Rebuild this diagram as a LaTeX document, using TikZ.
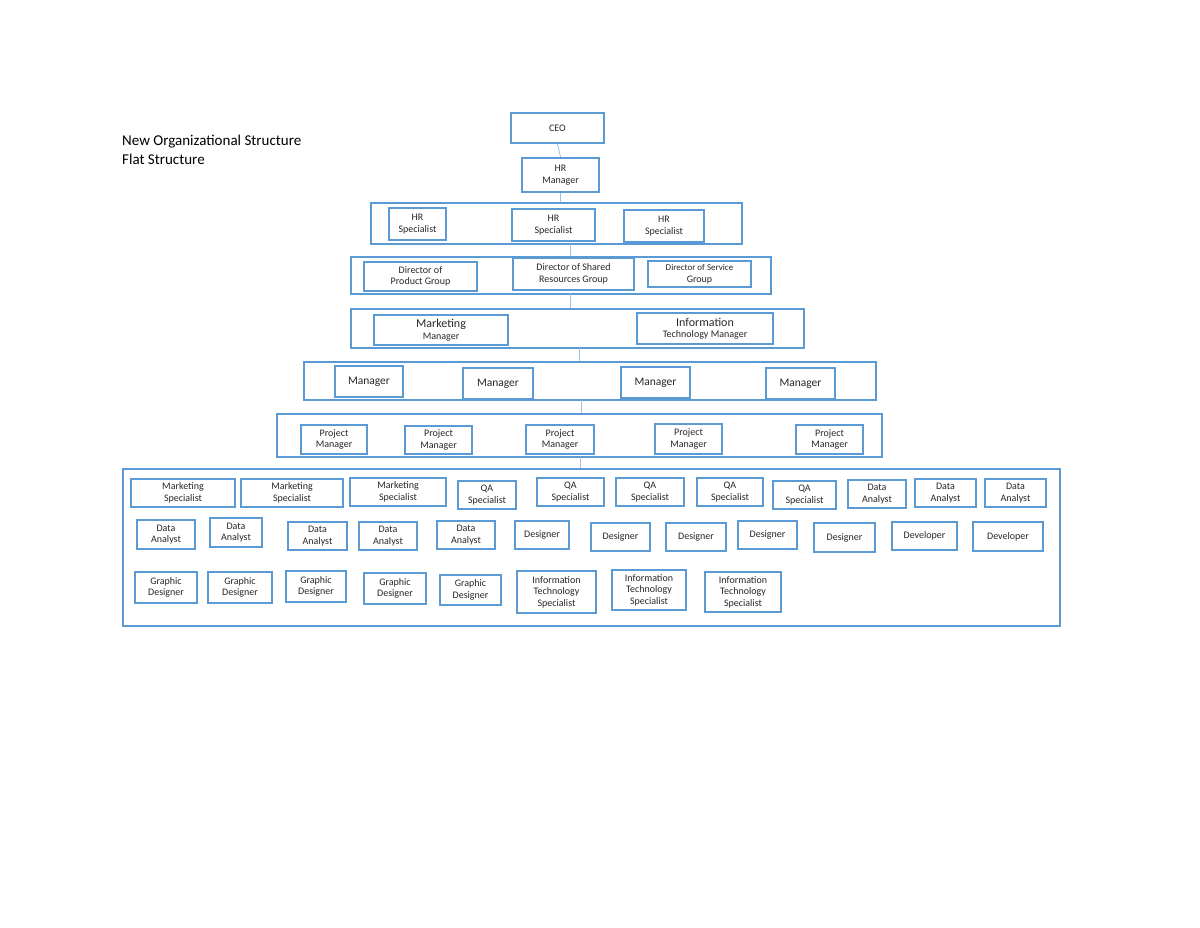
\documentclass[tikz,border=0pt]{standalone}
\usepackage{fontspec}
\setmainfont{Carlito}
\begin{document}
\begin{tikzpicture}[x=1pt,y=-1pt,
  box/.style={draw=boxblue,line width=2.2pt,inner sep=0pt,align=center,font=\fontsize{10}{11.5}\selectfont,text=black!85},
  grp/.style={draw=boxblue,line width=1.1pt,inner sep=0pt},
  conn/.style={draw=lineblue,line width=0.8pt}]
\definecolor{boxblue}{HTML}{5B9BD5}
\definecolor{lineblue}{HTML}{9DC3E6}
\useasboundingbox (0,0) rectangle (1200,927);
\newcommand\bx[6]{\node[box,minimum width={(#4-#2)*1pt},minimum height={(#5-#3)*1pt}] (#1) at ({(#2+#4)/2},{(#3+#5)/2}) {#6};}
\newcommand\gp[5]{\node[grp,minimum width={(#4-#2)*1pt},minimum height={(#5-#3)*1pt}] (#1) at ({(#2+#4)/2},{(#3+#5)/2}) {};}
\node[anchor=north west,align=left,inner sep=0pt,font=\fontsize{15}{19}\selectfont] (title) at (122,135) {New Organizational Structure\\Flat Structure};
% groups
\gp{g1}{371}{203}{742}{244}
\gp{g2}{351}{257}{771}{294}
\gp{g3}{351}{309}{804}{348}
\gp{g4}{304}{362}{876}{400}
\gp{g5}{277}{414}{882}{457}
\gp{g6}{123}{469}{1060}{626}
\bx{ceo}{511}{113}{604}{143}{CEO}
\bx{hr}{522}{158}{599}{192}{HR\\Manager}
\bx{hs1}{389}{208}{446}{240}{HR\\Specialist}
\bx{hs2}{512}{209}{595}{241}{HR\\Specialist}
\bx{hs3}{624}{210}{704}{242}{HR\\Specialist}
\bx{d1}{364}{262}{477}{291}{Director of\\Product Group}
\bx{d2}{513}{258}{634}{290}{Director of Shared\\Resources Group}
\bx{d3}{648}{261}{751}{287}{\fontsize{9}{10.5}\selectfont Director of Service\\Group}
\bx{mm}{374}{315}{508}{345}{\fontsize{12}{13}\selectfont Marketing\\Manager}
\bx{itm}{637}{313}{773}{344}{\fontsize{12}{13}\selectfont Information\\Technology Manager}
\bx{m1}{335}{366}{403}{397}{\fontsize{11.5}{13}\selectfont Manager}
\bx{m2}{463}{368}{533}{399}{\fontsize{11.5}{13}\selectfont Manager}
\bx{m3}{621}{367}{690}{398}{\fontsize{11.5}{13}\selectfont Manager}
\bx{m4}{766}{368}{835}{399}{\fontsize{11.5}{13}\selectfont Manager}
\bx{p1}{301}{425}{367}{454}{Project\\Manager}
\bx{p2}{405}{426}{472}{454}{Project\\Manager}
\bx{p3}{526}{425}{594}{454}{Project\\Manager}
\bx{p4}{655}{424}{722}{454}{Project\\Manager}
\bx{p5}{796}{425}{863}{454}{Project\\Manager}
% row 1
\bx{a1}{131}{479}{235}{507}{Marketing\\Specialist}
\bx{a2}{241}{479}{343}{507}{Marketing\\Specialist}
\bx{a3}{350}{478}{446}{506}{Marketing\\Specialist}
\bx{a4}{458}{481}{516}{509}{QA\\Specialist}
\bx{a5}{537}{478}{604}{506}{QA\\Specialist}
\bx{a6}{616}{478}{684}{506}{QA\\Specialist}
\bx{a7}{697}{478}{763}{506}{QA\\Specialist}
\bx{a8}{773}{481}{836}{509}{QA\\Specialist}
\bx{a9}{848}{480}{906}{508}{Data\\Analyst}
\bx{a10}{915}{479}{976}{507}{Data\\Analyst}
\bx{a11}{985}{479}{1046}{507}{Data\\Analyst}
% row 2
\bx{b1}{137}{520}{195}{549}{Data\\Analyst}
\bx{b2}{210}{518}{262}{547}{Data\\Analyst}
\bx{b3}{288}{522}{347}{550}{Data\\Analyst}
\bx{b4}{359}{522}{417}{550}{Data\\Analyst}
\bx{b5}{437}{521}{495}{549}{Data\\Analyst}
\bx{b6}{515}{521}{569}{549}{Designer}
\bx{b7}{591}{523}{650}{551}{Designer}
\bx{b8}{666}{523}{726}{551}{Designer}
\bx{b9}{738}{521}{797}{549}{Designer}
\bx{b10}{814}{523}{875}{552}{Designer}
\bx{b11}{892}{522}{957}{550}{Developer}
\bx{b12}{973}{522}{1043}{551}{Developer}
% row 3
\bx{c1}{135}{572}{197}{603}{Graphic\\Designer}
\bx{c2}{208}{572}{272}{603}{Graphic\\Designer}
\bx{c3}{286}{571}{346}{602}{Graphic\\Designer}
\bx{c4}{364}{573}{426}{604}{Graphic\\Designer}
\bx{c5}{440}{575}{501}{605}{Graphic\\Designer}
\bx{c6}{517}{571}{596}{613}{Information\\Technology\\Specialist}
\bx{c7}{612}{570}{686}{610}{Information\\Technology\\Specialist}
\bx{c8}{705}{572}{781}{612}{Information\\Technology\\Specialist}
% connectors
\draw[conn] (ceo.south) -- (hr.north);
\draw[conn] (hr.south) -- (hr.south |- g1.north);
\coordinate (k1) at (570,244);
\draw[conn] (k1) -- (k1 |- g2.north);
\coordinate (k2) at (570,294);
\draw[conn] (k2) -- (k2 |- g3.north);
\coordinate (k3) at (579,348);
\draw[conn] (k3) -- (k3 |- g4.north);
\coordinate (k4) at (581,400);
\draw[conn] (k4) -- (k4 |- g5.north);
\coordinate (k5) at (580,457);
\draw[conn] (k5) -- (k5 |- g6.north);
\end{tikzpicture}
\end{document}
